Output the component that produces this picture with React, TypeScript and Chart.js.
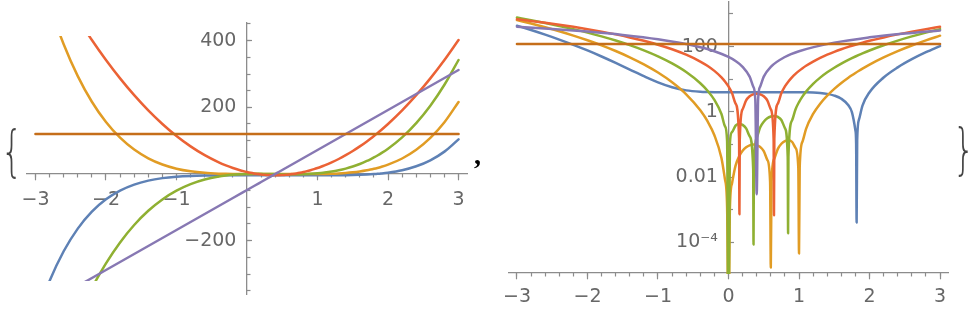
import React, { useEffect, useRef } from 'react';
import { Chart, registerables } from 'chart.js';

Chart.register(...registerables);

const X = [-3, -2.8, -2.6, -2.4, -2.2, -2, -1.8, -1.6, -1.4, -1.2, -1, -0.8, -0.6, -0.4, -0.3, -0.2, -0.1, -0.05,
  0, 0.05, 0.1, 0.15, 0.2, 0.25, 0.3, 0.35, 0.4, 0.45, 0.5, 0.55, 0.6, 0.65, 0.7, 0.75, 0.8, 0.85, 0.9, 0.95, 1, 1.05, 1.1,
  1.2, 1.3, 1.4, 1.5, 1.6, 1.7, 1.75, 1.8, 1.85, 1.9, 2, 2.2, 2.4, 2.6, 2.8, 3];

const BLUE = [-436, -320.99, -231.79, -163.81, -113.04, -76, -49.72, -31.69, -19.81, -12.36, -8, -5.659, -4.553, -4.1254,
  -4.0456, -4.0115, -4.0012, -4.00015,
  -4, -3.99989, -3.99919, -3.99756, -3.99488, -3.99121, -3.98677, -3.98189, -3.97696, -3.97243, -3.96875, -3.96631, -3.96544,
  -3.96636, -3.96913, -3.97364, -3.97952, -3.98618, -3.99271, -3.99786, -4, -3.99711, -3.98669,
  -3.93088, -3.80227, -3.56096, -3.15625, -2.52544, -1.59263, -0.98535, -0.26752, 0.5746, 1.55579,
  4, 11.333, 23.095, 40.995, 67.124, 104];

const ORANGE = [648, 506.46, 389.38, 293.76, 216.83, 156, 108.86, 73.216, 47.04, 28.512, 16, 8.064, 3.456, 1.12,
  0.5265, 0.192, 0.0385, 0.00853,
  0, 0.00653, 0.0225, 0.04303, 0.064, 0.08203, 0.0945, 0.09953, 0.096, 0.08353, 0.0625, 0.03403, 1.7e-5,
  -0.03697, -0.0735, -0.10547, -0.128, -0.13547, -0.1215, -0.07897, 4.6e-5, 0.12403, 0.3025,
  0.864, 1.7745, 3.136, 5.0625, 7.68, 11.1265, 13.207, 15.552, 18.182, 21.1185,
  28, 46.464, 72.576, 108.16, 155.23, 216];

const GREEN = [-774, -644, -529.36, -429.12, -342.32, -268, -205.2, -152.96, -110.32, -76.32, -50, -30.4, -16.56, -7.52,
  -4.5, -2.32, -0.86, -0.3625,
  0, 0.2425, 0.38, 0.4275, 0.4, 0.3125, 0.18, 0.0175, -0.16, -0.3375, -0.5, -0.6325, -0.72,
  -0.7475, -0.7, -0.5625, -0.32, 0.0425, 0.54, 1.1875, 2, 2.9925, 4.18,
  7.2, 11.18, 16.24, 22.5, 30.08, 39.1, 44.1875, 49.68, 55.5925, 61.94,
  76, 110, 152.64, 204.88, 267.68, 342];

const RED = [690, 610.8, 536.4, 466.8, 402, 342, 286.8, 236.4, 190.8, 150, 114, 82.8, 56.4, 34.8,
  25.8, 18, 11.4, 8.55,
  6, 3.75, 1.8, 0.15, -1.2, -2.25, -3, -3.45, -3.6, -3.45, -3, -2.25, -1.2,
  0.15, 1.8, 3.75, 6, 8.55, 11.4, 14.55, 18, 21.75, 25.8,
  34.8, 45, 56.4, 69, 82.8, 97.8, 105.75, 114, 122.55, 131.4,
  150, 190.8, 236.4, 286.8, 342, 402];

// extra samples close to the roots (dip depths)
const BLUE_EXTRA_X = [1.81, 1.817, 1.825];
const BLUE_EXTRA_Y = [-0.1095, 4.1e-4, 0.1371];
const ORANGE_EXTRA_X = [-0.02, 0.02, 0.59, 0.61, 0.99, 1.01];
const ORANGE_EXTRA_Y = [0.001265, 0.001137, 0.007136, -0.007256, -0.019112, 0.020912];
const GREEN_EXTRA_X = [-0.02, 0.02, 0.355, 0.36, 0.84, 0.845];
const GREEN_EXTRA_Y = [-0.12976, 0.11056, 8.7e-5, -0.01728, -0.04032, 1.9e-4];
const RED_EXTRA_X = [0.155, 0.16, 0.64, 0.645];
const RED_EXTRA_Y = [7.3e-4, -0.144, -0.144, 6.8e-4];

const PURPLE_X = [-3, -2.5, -2, -1.5, -1, -0.5, -0.2, 0, 0.1, 0.2, 0.3, 0.35, 0.38, 0.4, 0.42, 0.45, 0.5, 0.6, 0.8, 1, 1.5, 2, 2.5, 3];
const PURPLE = [-408, -348, -288, -228, -168, -108, -72, -48, -36, -24, -12, -6, -2.4, 0.003, 2.4, 6, 12, 24, 48, 72, 132, 192, 252, 312];

const DARK_X = [-3, 3];
const DARK = [120, 120];

// ---- ticks ----
const LEFT_X_TICKS = [-3, -2, -1, 1, 2, 3];
const LEFT_X_LABELS = ['−3', '−2', '−1', '1', '2', '3'];
const X_MINOR_TICKS = [-3, -2.8, -2.6, -2.4, -2.2, -2, -1.8, -1.6, -1.4, -1.2, -1, -0.8, -0.6, -0.4, -0.2, 0.2, 0.4, 0.6, 0.8,
  1, 1.2, 1.4, 1.6, 1.8, 2, 2.2, 2.4, 2.6, 2.8, 3];
const LEFT_Y_TICKS = [-200, 200, 400];
const LEFT_Y_LABELS = ['−200', '200', '400'];
const LEFT_Y_MINOR = [-350, -300, -250, -200, -150, -100, -50, 50, 100, 150, 200, 250, 300, 350, 400, 450];

const RIGHT_X_TICKS = [-3, -2, -1, 0, 1, 2, 3];
const RIGHT_X_LABELS = ['−3', '−2', '−1', '0', '1', '2', '3'];
const RIGHT_X_MINOR = [-3, -2.8, -2.6, -2.4, -2.2, -2, -1.8, -1.6, -1.4, -1.2, -1, -0.8, -0.6, -0.4, -0.2, 0, 0.2, 0.4, 0.6, 0.8,
  1, 1.2, 1.4, 1.6, 1.8, 2, 2.2, 2.4, 2.6, 2.8, 3];
const RIGHT_Y_TICKS = [1e-4, 0.01, 1, 100];
const RIGHT_Y_LABELS = ['10⁻⁴', '0.01', '1', '100'];
const RIGHT_Y_MINOR = [1e-3, 0.1, 10, 1000];

const COLORS = ['#5E81B5', '#E19C24', '#8FB032', '#EB6235', '#8778B3', '#C56E1A'];
const AXIS = '#8c8c8c';
const LABEL = '#676767';
const FONT = { family: "'DejaVu Sans', sans-serif", size: 19 };

const X_RANGE = [-3.12, 3.12];
const LEFT_Y_RANGE = [-360, 453];
const RIGHT_Y_RANGE = [1.16e-5, 2320];
const LOG_FLOOR = 1e-7; // exact zeros are drawn below the log axis floor (clipped there)

function pts(xs: number[], ys: number[], ex: number[], ey: number[], abs: boolean) {
  const p = xs.map((x, i) => ({ x, y: ys[i] })).concat(ex.map((x, i) => ({ x, y: ey[i] })));
  p.sort((a, b) => a.x - b.x);
  return abs ? p.map((q) => ({ x: q.x, y: Math.max(Math.abs(q.y), LOG_FLOOR) })) : p;
}

const SERIES = [
  { xs: X, ys: BLUE, ex: BLUE_EXTRA_X, ey: BLUE_EXTRA_Y },
  { xs: X, ys: ORANGE, ex: ORANGE_EXTRA_X, ey: ORANGE_EXTRA_Y },
  { xs: X, ys: GREEN, ex: GREEN_EXTRA_X, ey: GREEN_EXTRA_Y },
  { xs: X, ys: RED, ex: RED_EXTRA_X, ey: RED_EXTRA_Y },
  { xs: PURPLE_X, ys: PURPLE, ex: [], ey: [] },
  { xs: DARK_X, ys: DARK, ex: [], ey: [] },
];

function datasets(abs: boolean, clip: any) {
  return SERIES.map((s, i) => ({
    data: pts(s.xs, s.ys, s.ex, s.ey, abs),
    borderColor: COLORS[i],
    backgroundColor: COLORS[i],
    borderWidth: 2.5,
    pointRadius: 0,
    pointHoverRadius: 0,
    fill: false,
    cubicInterpolationMode: 'monotone',
    borderJoinStyle: 'round',
    borderCapStyle: 'round',
    order: -i,
    clip,
  }));
}

function setTicks(list: number[]) {
  return (scale: any) => {
    scale.ticks = list.map((v) => ({ value: v }));
  };
}

function axisMajor(type: string, range: number[], position: any, list: number[], tickLength: number, showBorder: boolean) {
  return {
    type,
    min: range[0],
    max: range[1],
    position,
    afterBuildTicks: setTicks(list),
    ticks: { display: false, autoSkip: false, maxRotation: 0 },
    grid: { display: true, drawOnChartArea: false, drawTicks: true, tickLength, color: AXIS, tickColor: AXIS, tickWidth: 1.2 },
    border: { display: showBorder, color: AXIS, width: 1.3 },
  };
}

function labelScale(axis: string, type: string, range: number[], position: any, list: number[], labels: string[], padding: number) {
  return {
    axis,
    type,
    min: range[0],
    max: range[1],
    position,
    afterBuildTicks: setTicks(list),
    ticks: {
      display: true,
      autoSkip: false,
      maxRotation: 0,
      minRotation: 0,
      padding,
      font: FONT,
      color: LABEL,
      callback: (_v: any, i: number) => labels[i],
    },
    grid: { display: false, drawTicks: false },
    border: { display: false },
  };
}

function leftConfig(): any {
  return {
    type: 'line',
    data: { datasets: datasets(false, { left: false, top: -13, right: false, bottom: -13 }) },
    options: {
      animation: false,
      responsive: false,
      devicePixelRatio: 1,
      events: [],
      layout: { padding: { left: 27, right: 23, top: 23, bottom: 24 } },
      plugins: { legend: { display: false }, tooltip: { enabled: false } },
      scales: {
        x: axisMajor('linear', X_RANGE, { y: 0 }, LEFT_X_TICKS, 6, true),
        y: axisMajor('linear', LEFT_Y_RANGE, { x: 0 }, LEFT_Y_TICKS, -6, true),
        xMinor: { axis: 'x', ...axisMajor('linear', X_RANGE, { y: 0 }, X_MINOR_TICKS, 3.5, false) },
        yMinor: { axis: 'y', ...axisMajor('linear', LEFT_Y_RANGE, { x: 0 }, LEFT_Y_MINOR, -3.5, false) },
        xLab: labelScale('x', 'linear', X_RANGE, { y: 0 }, LEFT_X_TICKS, LEFT_X_LABELS, 14.2),
        yLab: labelScale('y', 'linear', LEFT_Y_RANGE, { x: -0.15 }, LEFT_Y_TICKS, LEFT_Y_LABELS, 0),
      },
    },
  };
}

function rightConfig(): any {
  return {
    type: 'line',
    data: { datasets: datasets(true, { left: 2, top: 2, right: 2, bottom: 1 }) },
    options: {
      animation: false,
      responsive: false,
      devicePixelRatio: 1,
      events: [],
      layout: { padding: { left: 18.5, right: 23.5, top: 22, bottom: 47 } },
      plugins: { legend: { display: false }, tooltip: { enabled: false } },
      scales: {
        x: axisMajor('linear', X_RANGE, { y: RIGHT_Y_RANGE[0] }, RIGHT_X_TICKS, 6, true),
        y: axisMajor('logarithmic', RIGHT_Y_RANGE, { x: 0 }, RIGHT_Y_TICKS, -6, true),
        xMinor: { axis: 'x', ...axisMajor('linear', X_RANGE, { y: RIGHT_Y_RANGE[0] }, RIGHT_X_MINOR, 3.5, false) },
        yMinor: { axis: 'y', ...axisMajor('logarithmic', RIGHT_Y_RANGE, { x: 0 }, RIGHT_Y_MINOR, -4, false) },
        xLab: labelScale('x', 'linear', X_RANGE, { y: RIGHT_Y_RANGE[0] }, RIGHT_X_TICKS, RIGHT_X_LABELS, 12.3),
        yLab: labelScale('y', 'logarithmic', RIGHT_Y_RANGE, { x: -0.15 }, RIGHT_Y_TICKS, RIGHT_Y_LABELS, 0),
      },
    },
  };
}

export default function App() {
  const leftRef = useRef<HTMLCanvasElement>(null);
  const rightRef = useRef<HTMLCanvasElement>(null);
  useEffect(() => {
    const a = new Chart(leftRef.current as HTMLCanvasElement, leftConfig());
    const b = new Chart(rightRef.current as HTMLCanvasElement, rightConfig());
    return () => {
      a.destroy();
      b.destroy();
    };
  }, []);
  const brace: any = {
    position: 'absolute',
    fontFamily: "'DejaVu Sans', sans-serif",
    fontWeight: 200,
    fontSize: 34,
    lineHeight: '34px',
    color: '#444',
    transform: 'scaleY(1.6)',
    transformOrigin: '0 0',
    whiteSpace: 'pre',
  };
  return (
    <div style={{ position: 'absolute', left: 0, top: 0, width: 972, height: 318, overflow: 'hidden', background: '#fff' }}>
      <canvas ref={leftRef} width={490} height={318} style={{ position: 'absolute', left: 0, top: 0 }} />
      <canvas ref={rightRef} width={482} height={340} style={{ position: 'absolute', left: 490, top: -20 }} />
      <span style={{ ...brace, left: 1, top: 124 }}>{'{'}</span>
      <span style={{ ...brace, left: 953, top: 122 }}>{'}'}</span>
      <span
        style={{
          position: 'absolute',
          left: 474,
          top: 141,
          fontFamily: "'Liberation Serif', serif",
          fontWeight: 'bold',
          fontSize: 28,
          lineHeight: '28px',
          color: '#000',
        }}
      >
        ,
      </span>
    </div>
  );
}
